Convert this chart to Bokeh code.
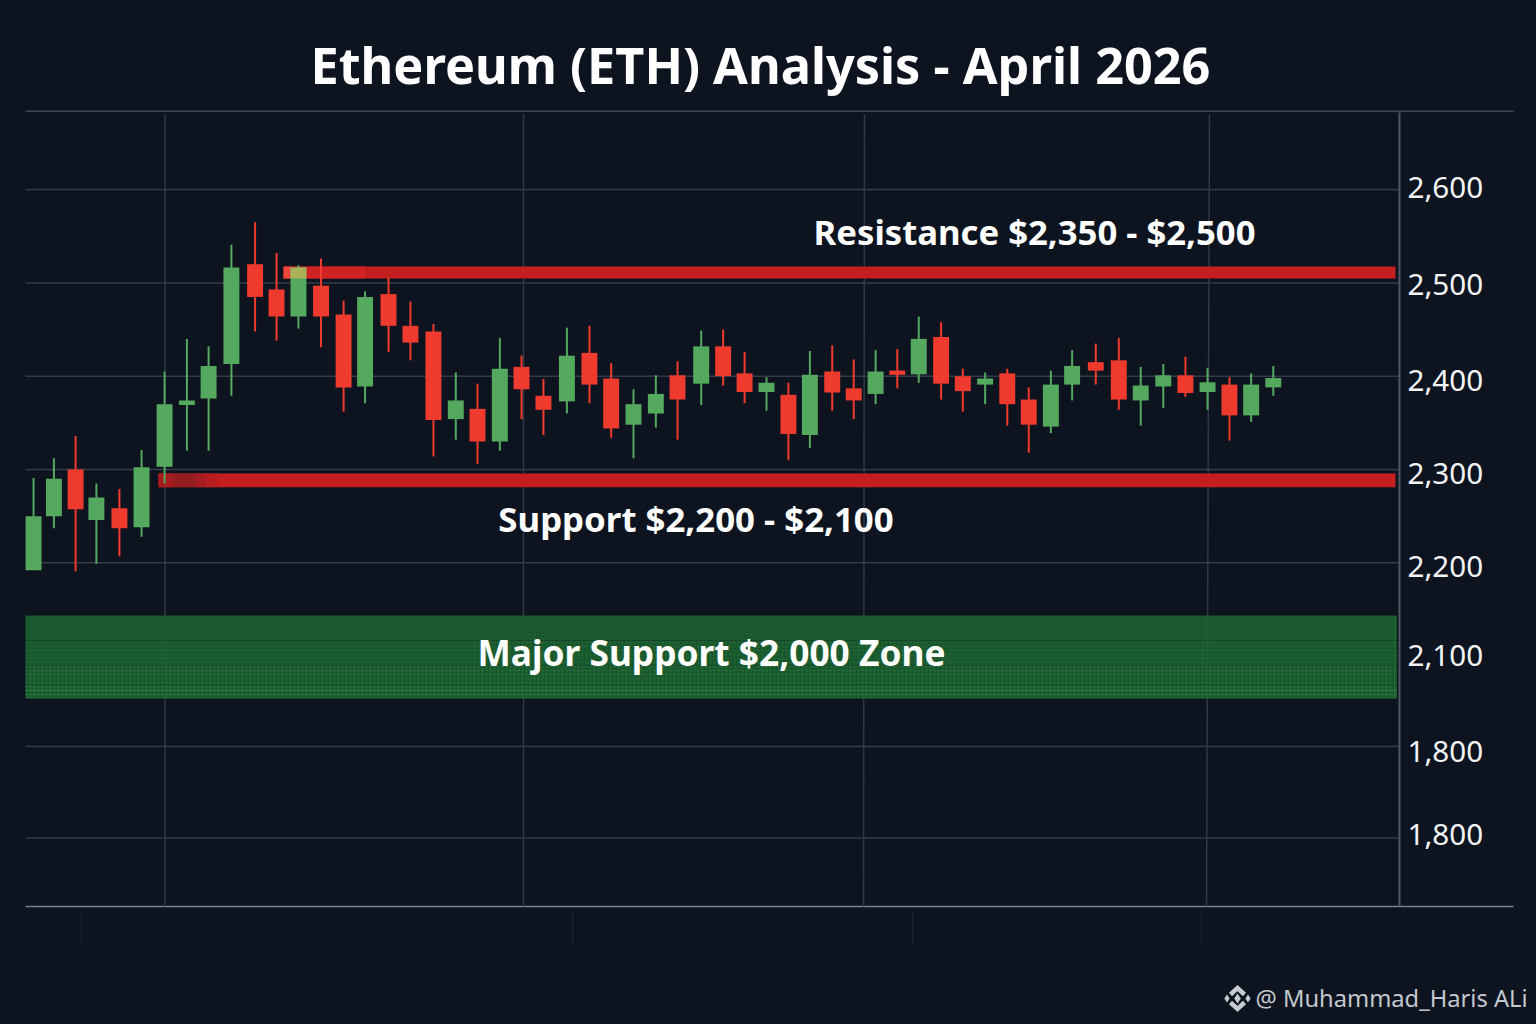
from bokeh.plotting import figure
from bokeh.models import ColumnDataSource, LinearAxis, FixedTicker, Range1d
from bokeh.core.properties import value
from bokeh.embed import file_html
from bokeh.resources import INLINE

BG = "#0d1420"
GREEN = "#55a95f"
RED = "#ef3a2e"
FONT = "Noto Sans"

# ---- data -------------------------------------------------------------
opens = [2192,2250,2300,2246,2258.5,2238,2303,2369,2376,2413,2520,2493,2464,2497,2466,2389,2488,2454,2448,
         2354,2365,2330,2410,2379,2373,2425,2397.5,2348,2360,2401,2392,2432,2403,2383,2380,2337,2405,2387,2381,
         2406,2402,2442,2400,2391,2403,2375,2346,2391,2415,2417,2374,2389,2401,2383,2391,2358,2388]
closes = [2250,2290,2257.5,2270,2237,2302.5,2370,2374,2411,2516.5,2485,2464,2516.5,2464,2388,2485,2454,2436,2353,
          2374,2330,2408,2386,2364,2422,2391,2344,2370,2381,2375,2432,2400,2383,2393,2338,2401.5,2382.5,2374,2405,
          2401.5,2440,2392,2384,2397.5,2370,2348,2391,2411,2406,2375,2390,2401,2382,2393.5,2358,2391,2398]
highs = [2291,2312,2336,2285,2279,2321,2405,2440,2432,2541,2565,2532,2519,2526,2481,2491,2506,2480,2456,
         2404,2392,2441,2422,2397,2452,2454,2414,2386,2401,2416,2449,2450,2426,2399,2393,2427,2433,2418,2428,
         2429,2464,2458,2408,2404,2408,2388,2406,2428,2435,2441,2410,2413,2421,2409,2399,2403,2411]
lows = [2192,2237,2191,2199,2207,2228,2285,2320,2320,2379,2448,2438,2451,2431,2362,2371,2426,2417,2314,
        2332,2306,2320,2354,2337,2360,2371,2334,2312,2345,2332,2369,2390,2371,2363,2310,2323,2363,2354,2370,
        2387,2393,2375,2362,2370,2347,2318,2339,2374,2391,2364,2347,2366,2378,2364,2331,2351,2379]

grid_prices = [2600, 2500, 2400, 2300, 2200, 2100, 2003, 1905]
tick_labels = ["2,600", "2,500", "2,400", "2,300", "2,200", "2,100", "1,800", "1,800"]
tick_prices = [2602, 2498, 2395, 2296, 2196, 2100.6, 1998, 1909]

resistance_band = (2504.7, 2517.6)
support_band = (2281, 2295.7)
major_zone = (2054, 2143.5)
title_text = "Ethereum (ETH) Analysis - April 2026"
annotations = ["Resistance $2,350 - $2,500", "Support $2,200 - $2,100", "Major Support $2,000 Zone"]
watermark = "@ Muhammad_Haris ALi"

# small irregularities of the candle spacing, in candle slots
slot_nudge = [-.02,-.10,-.12,-.18,-.14,-.14,-.10,-.09,-.11,-.08,-.01,-.04,-.05,-.03,-.01,-.04,.02,.01,.05,
              .06,.04,.05,.03,.02,.08,.10,.08,.09,.10,.08,.15,.14,.11,.10,.09,.06,.07,.04,.03,
              .01,-.02,-.01,-.03,-.02,-.02,-.05,-.05,-.09,-.02,.02,.01,.03,.03,.03,.02,0,0]

# ---- mapping helpers (reference pixels to data), for furniture only -----
def X(px):
    return (px - 33.5) / 22.13

def Y(px):
    return 2400 + (375.7 - px) * 1.0718

p = figure(width=1536, height=1024, x_range=Range1d(X(0), X(1536)), y_range=Range1d(Y(1024), Y(108)),
           output_backend="svg", toolbar_location=None, min_border=0, min_border_top=108,
           background_fill_color=BG, border_fill_color=BG, outline_line_color=None,
           x_axis_location=None, y_axis_location=None)
p.grid.visible = False

p.title.text = title_text
p.title.text_font = FONT
p.title.text_font_size = "50.4px"
p.title.text_font_style = "bold"
p.title.text_color = "#ffffff"
p.title.align = "left"
p.title.offset = 310
p.title.standoff = 19

# grid and frame lines
LINE = "#343c49"
p.segment([X(25)] * len(grid_prices), grid_prices, [X(1399)] * len(grid_prices), grid_prices,
          line_color=LINE, line_width=1.5)
p.segment([X(25)], [Y(110.7)], [X(1513)], [Y(110.7)], line_color="#3c4451", line_width=1.5)
p.segment([X(25)], [Y(906)], [X(1513)], [Y(906)], line_color="#7a818d", line_width=1.5)
vx_top = [164.5, 523, 864, 1209]
vx_bot = [164.5, 523, 863, 1206]
p.segment([X(v) for v in vx_top], [Y(114)] * 4, [X(v) for v in vx_bot], [Y(906)] * 4,
          line_color="#313947", line_width=1.5)
faint = [81, 572, 912, 1201]
p.segment([X(v) for v in faint], [Y(910)] * 4, [X(v) for v in faint], [Y(945)] * 4,
          line_color="#1a2230", line_width=1)

# major support zone: a dotted texture that gets stronger towards the foot
zone_l, zone_r = X(25), X(1396.5)
for top_px, bot_px, base, alpha in [(615, 640, "#1a5a2e", 0.30), (640, 665, "#1a5b2e", 0.40),
                                    (665, 685, "#1b5d2f", 0.55), (685, 698, "#1c6030", 0.8)]:
    p.quad(left=[zone_l], right=[zone_r], bottom=[Y(bot_px)], top=[Y(top_px)],
           fill_color=base, fill_alpha=0.96, line_color=None,
           hatch_pattern="dot", hatch_color="#2f8a45", hatch_alpha=alpha, hatch_scale=4, hatch_weight=1.5)
p.segment([zone_l], [Y(690)], [zone_r], [Y(690)], line_color="#2f8a45", line_alpha=0.45, line_width=1.5)

# resistance and support bands, with their uneven left ends
p.quad(left=[X(283)], right=[X(1395)], bottom=[resistance_band[0]], top=[resistance_band[1]],
       fill_color="#c41e1f", line_color=None)
p.quad(left=[X(283)], right=[X(291)], bottom=[resistance_band[0]], top=[resistance_band[1]],
       fill_color="#f0463a", line_color=None)
p.quad(left=[X(291)], right=[X(365)], bottom=[resistance_band[0]], top=[resistance_band[1]],
       fill_color="#d02223", line_color=None)
p.quad(left=[X(158)], right=[X(1395)], bottom=[support_band[0]], top=[support_band[1]],
       fill_color="#c41e1f", line_color=None)
for left_px, right_px, color in [(158, 172, "#a81c20"), (172, 196, "#951c20"), (196, 206, "#a61c20"), (206, 218, "#b71d1f")]:
    p.quad(left=[X(left_px)], right=[X(right_px)], bottom=[support_band[0]], top=[support_band[1]],
           fill_color=color, line_color=None)

# candles
xs = [i + n for i, n in enumerate(slot_nudge)]
colors = [GREEN if c > o else RED for o, c in zip(opens, closes)]
src = ColumnDataSource(dict(x=xs, o=opens, c=closes, h=highs, l=lows,
                            top=[max(a, b) for a, b in zip(opens, closes)],
                            bot=[min(a, b) for a, b in zip(opens, closes)],
                            color=colors))
p.segment("x", "h", "x", "l", source=src, line_color="color", line_width=2)
p.vbar(x="x", top="top", bottom="bot", width=0.72, source=src, fill_color="color", line_color=None)
# candle 12 seen through the resistance band
p.quad(left=[xs[12] - 0.36], right=[xs[12] + 0.36], bottom=[resistance_band[0]], top=[closes[12]],
       fill_color="#a9b056", line_color=None)

# annotations
ann_src = ColumnDataSource(dict(x=[X(1034), X(695.5), X(711)], y=[Y(231), Y(517.5), Y(651)],
                                text=annotations, size=["34.7px", "34.8px", "35.3px"]))
p.text("x", "y", text="text", source=ann_src, text_font=value(FONT), text_font_style="bold",
       text_font_size="size", text_color="#ffffff", text_align="center", text_baseline="middle")

# watermark
p.text([X(1255)], [Y(997.5)], text=[watermark], text_font=value(FONT), text_font_size="23.7px",
       text_color="#c3c8ce", text_align="left", text_baseline="middle")
LOGO = "#c6cbd1"
p.scatter([X(1237), X(1226.5), X(1247.5)], [Y(998)] * 3, marker="diamond", size=[10, 8, 8],
          fill_color=LOGO, line_color=None)
p.multi_line([[X(1230), X(1237), X(1244)], [X(1230), X(1237), X(1244)]],
             [[Y(994), Y(987.5), Y(994)], [Y(1002), Y(1008.5), Y(1002)]],
             line_color=LOGO, line_width=4.5, line_join="miter")

# price axis
axis = LinearAxis(fixed_location=X(1399), bounds=(Y(906), Y(112)),
                  ticker=FixedTicker(ticks=tick_prices),
                  major_label_overrides=dict(zip(tick_prices, tick_labels)))
axis.axis_line_color = "#505865"
axis.axis_line_width = 2
axis.major_tick_line_color = None
axis.minor_tick_line_color = None
axis.major_tick_in = 0
axis.major_tick_out = 0
axis.major_label_standoff = 8
axis.major_label_text_font = FONT
axis.major_label_text_font_size = "29.6px"
axis.major_label_text_color = "#f2f4f6"
p.add_layout(axis, "right")

html = file_html(p, INLINE)
html = html.replace("</head>", "<style>html,body{background:%s}</style></head>" % BG, 1)
open("out.html", "w").write(html)
